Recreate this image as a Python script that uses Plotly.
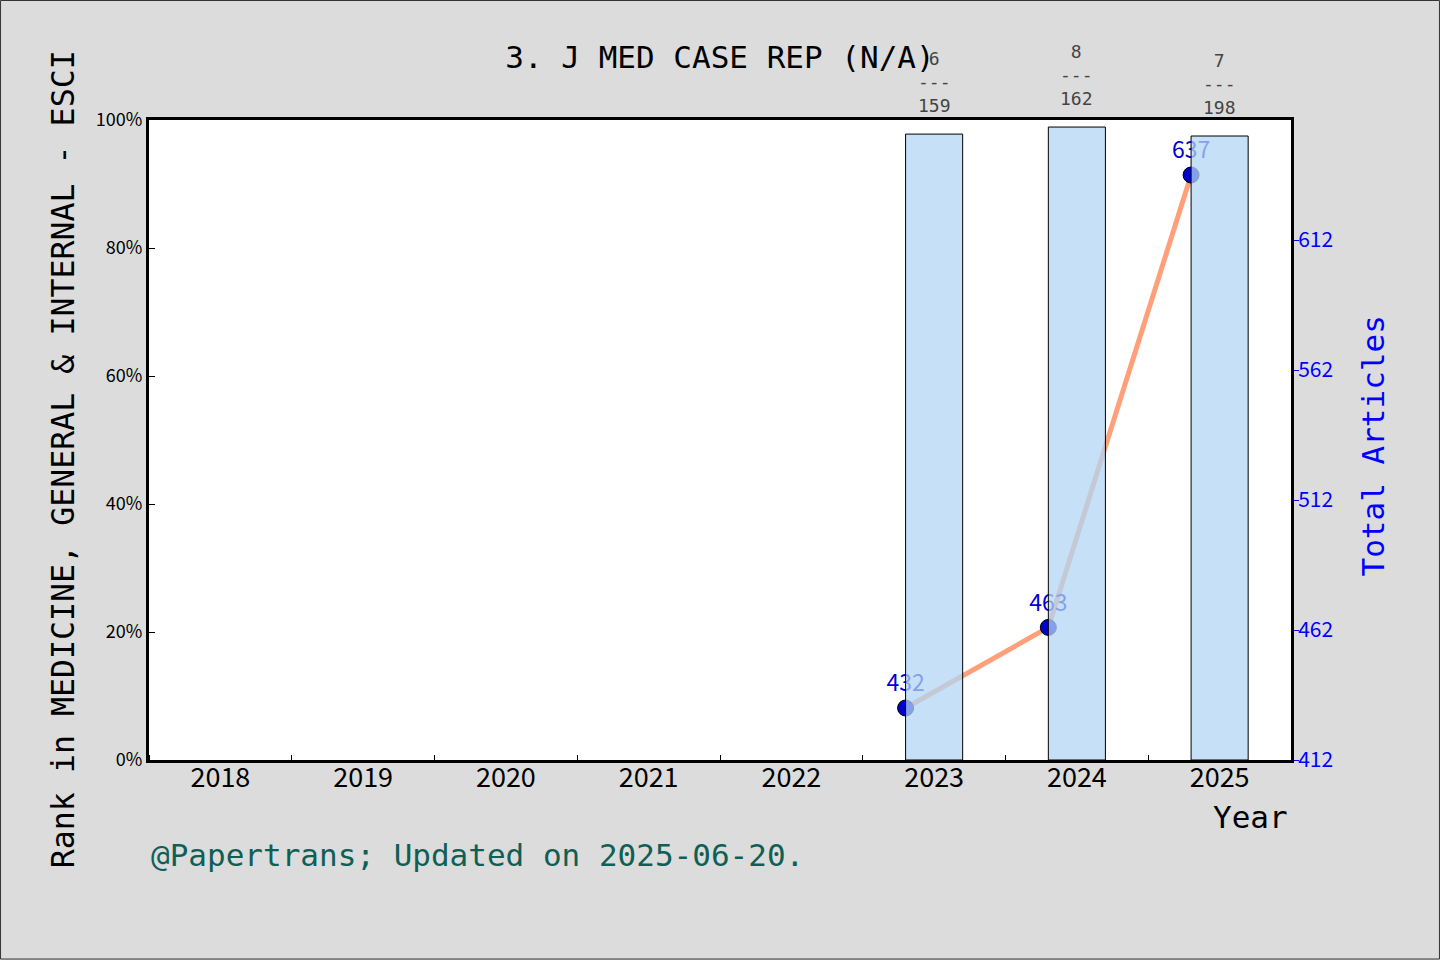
import plotly.graph_objects as go

# dados
anos = [2018, 2019, 2020, 2021, 2022, 2023, 2024, 2025]
anos_dados = [2023, 2024, 2025]
percentil_rank = [0.978, 0.989, 0.975]
posicao = [6, 8, 7]
total_categoria = [159, 162, 198]
total_artigos = [432, 463, 637]

ticks_artigos = [412, 462, 512, 562, 612]

MONO = "DejaVu Sans Mono"
SANS = "Noto Sans CJK SC"

fig = go.Figure()

# linha de artigos (eixo direito, camada de baixo)
fig.add_trace(go.Scatter(
    x=[a - 0.2 for a in anos_dados],
    y=total_artigos,
    mode="lines+markers+text",
    text=[str(v) for v in total_artigos],
    textposition="top center",
    textfont=dict(family=SANS, size=23, color="#0000d0"),
    line=dict(color="#ffa07a", width=5),
    marker=dict(size=16, color="#0000cd", line=dict(color="black", width=1)),
    yaxis="y",
    showlegend=False
))

# barras do ranking (eixo esquerdo, por cima da linha)
fig.add_trace(go.Bar(
    x=anos_dados,
    y=percentil_rank,
    width=0.4,
    marker=dict(color="rgba(178,214,244,0.75)", line=dict(color="black", width=1)),
    yaxis="y2",
    showlegend=False
))

anotacoes = []
for ano, p, r, t in zip(anos_dados, percentil_rank, posicao, total_categoria):
    anotacoes.append(dict(
        x=ano, y=p, xref="x", yref="y2",
        text=f"{r}<br>---<br>{t}",
        showarrow=False, yanchor="bottom", yshift=16,
        font=dict(family=MONO, size=18, color="#444444")
    ))

anotacoes += [
    dict(x=-0.0753, y=0.47, xref="paper", yref="paper",
         xanchor="center", yanchor="middle",
         text="Rank in MEDICINE, GENERAL & INTERNAL - ESCI",
         textangle=-90, showarrow=False,
         font=dict(family=MONO, size=31.6, color="black")),
    dict(x=1.0718, y=0.4914, xref="paper", yref="paper",
         xanchor="center", yanchor="middle",
         text="Total Articles", textangle=-90, showarrow=False,
         font=dict(family=MONO, size=31, color="blue")),
    dict(x=0.9991, y=-0.089, xref="paper", yref="paper",
         text="Year", xanchor="right", yanchor="middle", showarrow=False,
         font=dict(family=MONO, size=31, color="black")),
    dict(x=0.0, y=-0.1484, xref="paper", yref="paper",
         text="@Papertrans; Updated on 2025-06-20.",
         xanchor="left", yanchor="middle", showarrow=False,
         font=dict(family=MONO, size=31, color="#0f5f55")),
]

fig.update_layout(
    width=1440,
    height=960,
    paper_bgcolor="#dcdcdc",
    plot_bgcolor="white",
    margin=dict(l=149, r=149, t=120, b=200),
    title=dict(
        text="3. J MED CASE REP (N/A)",
        x=0.5, xanchor="center", y=1 - 57 / 960, yanchor="middle",
        font=dict(family=MONO, size=31, color="black")
    ),
    xaxis=dict(
        range=[2017.5, 2025.5],
        tickmode="array", tickvals=anos, ticktext=[str(a) for a in anos],
        ticks="", showgrid=False, zeroline=False,
        showline=True, linecolor="black", linewidth=3, mirror=True,
        ticklabelstandoff=-8,
        tickfont=dict(family=SANS, size=27, color="black"),
        minor=dict(tick0=2017.5, dtick=1, ticks="inside", ticklen=5,
                   tickcolor="black", tickwidth=1, showgrid=False)
    ),
    yaxis=dict(
        side="right",
        range=[412, 412 + 640 * 50 / 130],
        tickmode="array", tickvals=ticks_artigos,
        ticks="outside", ticklen=5, tickcolor="blue", tickwidth=1,
        ticklabelstandoff=-5,
        tickfont=dict(family=SANS, size=21, color="blue"),
        showgrid=False, zeroline=False,
        showline=True, linecolor="black", linewidth=3
    ),
    yaxis2=dict(
        overlaying="y", side="left",
        range=[0, 1],
        tickmode="array", tickvals=[0, 0.2, 0.4, 0.6, 0.8, 1.0],
        tickformat=".0%",
        ticks="inside", ticklen=6, tickcolor="black", tickwidth=1,
        tickfont=dict(family=SANS, size=18, color="black"),
        showgrid=False, zeroline=False,
        showline=True, linecolor="black", linewidth=3
    ),
    annotations=anotacoes,
    shapes=[dict(
        type="rect", xref="paper", yref="paper",
        x0=-0.1300, x1=1.1300, y0=-0.3110, y1=1.1867,
        line=dict(color="#333333", width=1), fillcolor="rgba(0,0,0,0)",
        layer="below"
    )],
    bargap=0.6
)

fig.write_html(
    "out.html",
    config={"displayModeBar": False},
    post_script="document.body.style.margin='0';"
)
